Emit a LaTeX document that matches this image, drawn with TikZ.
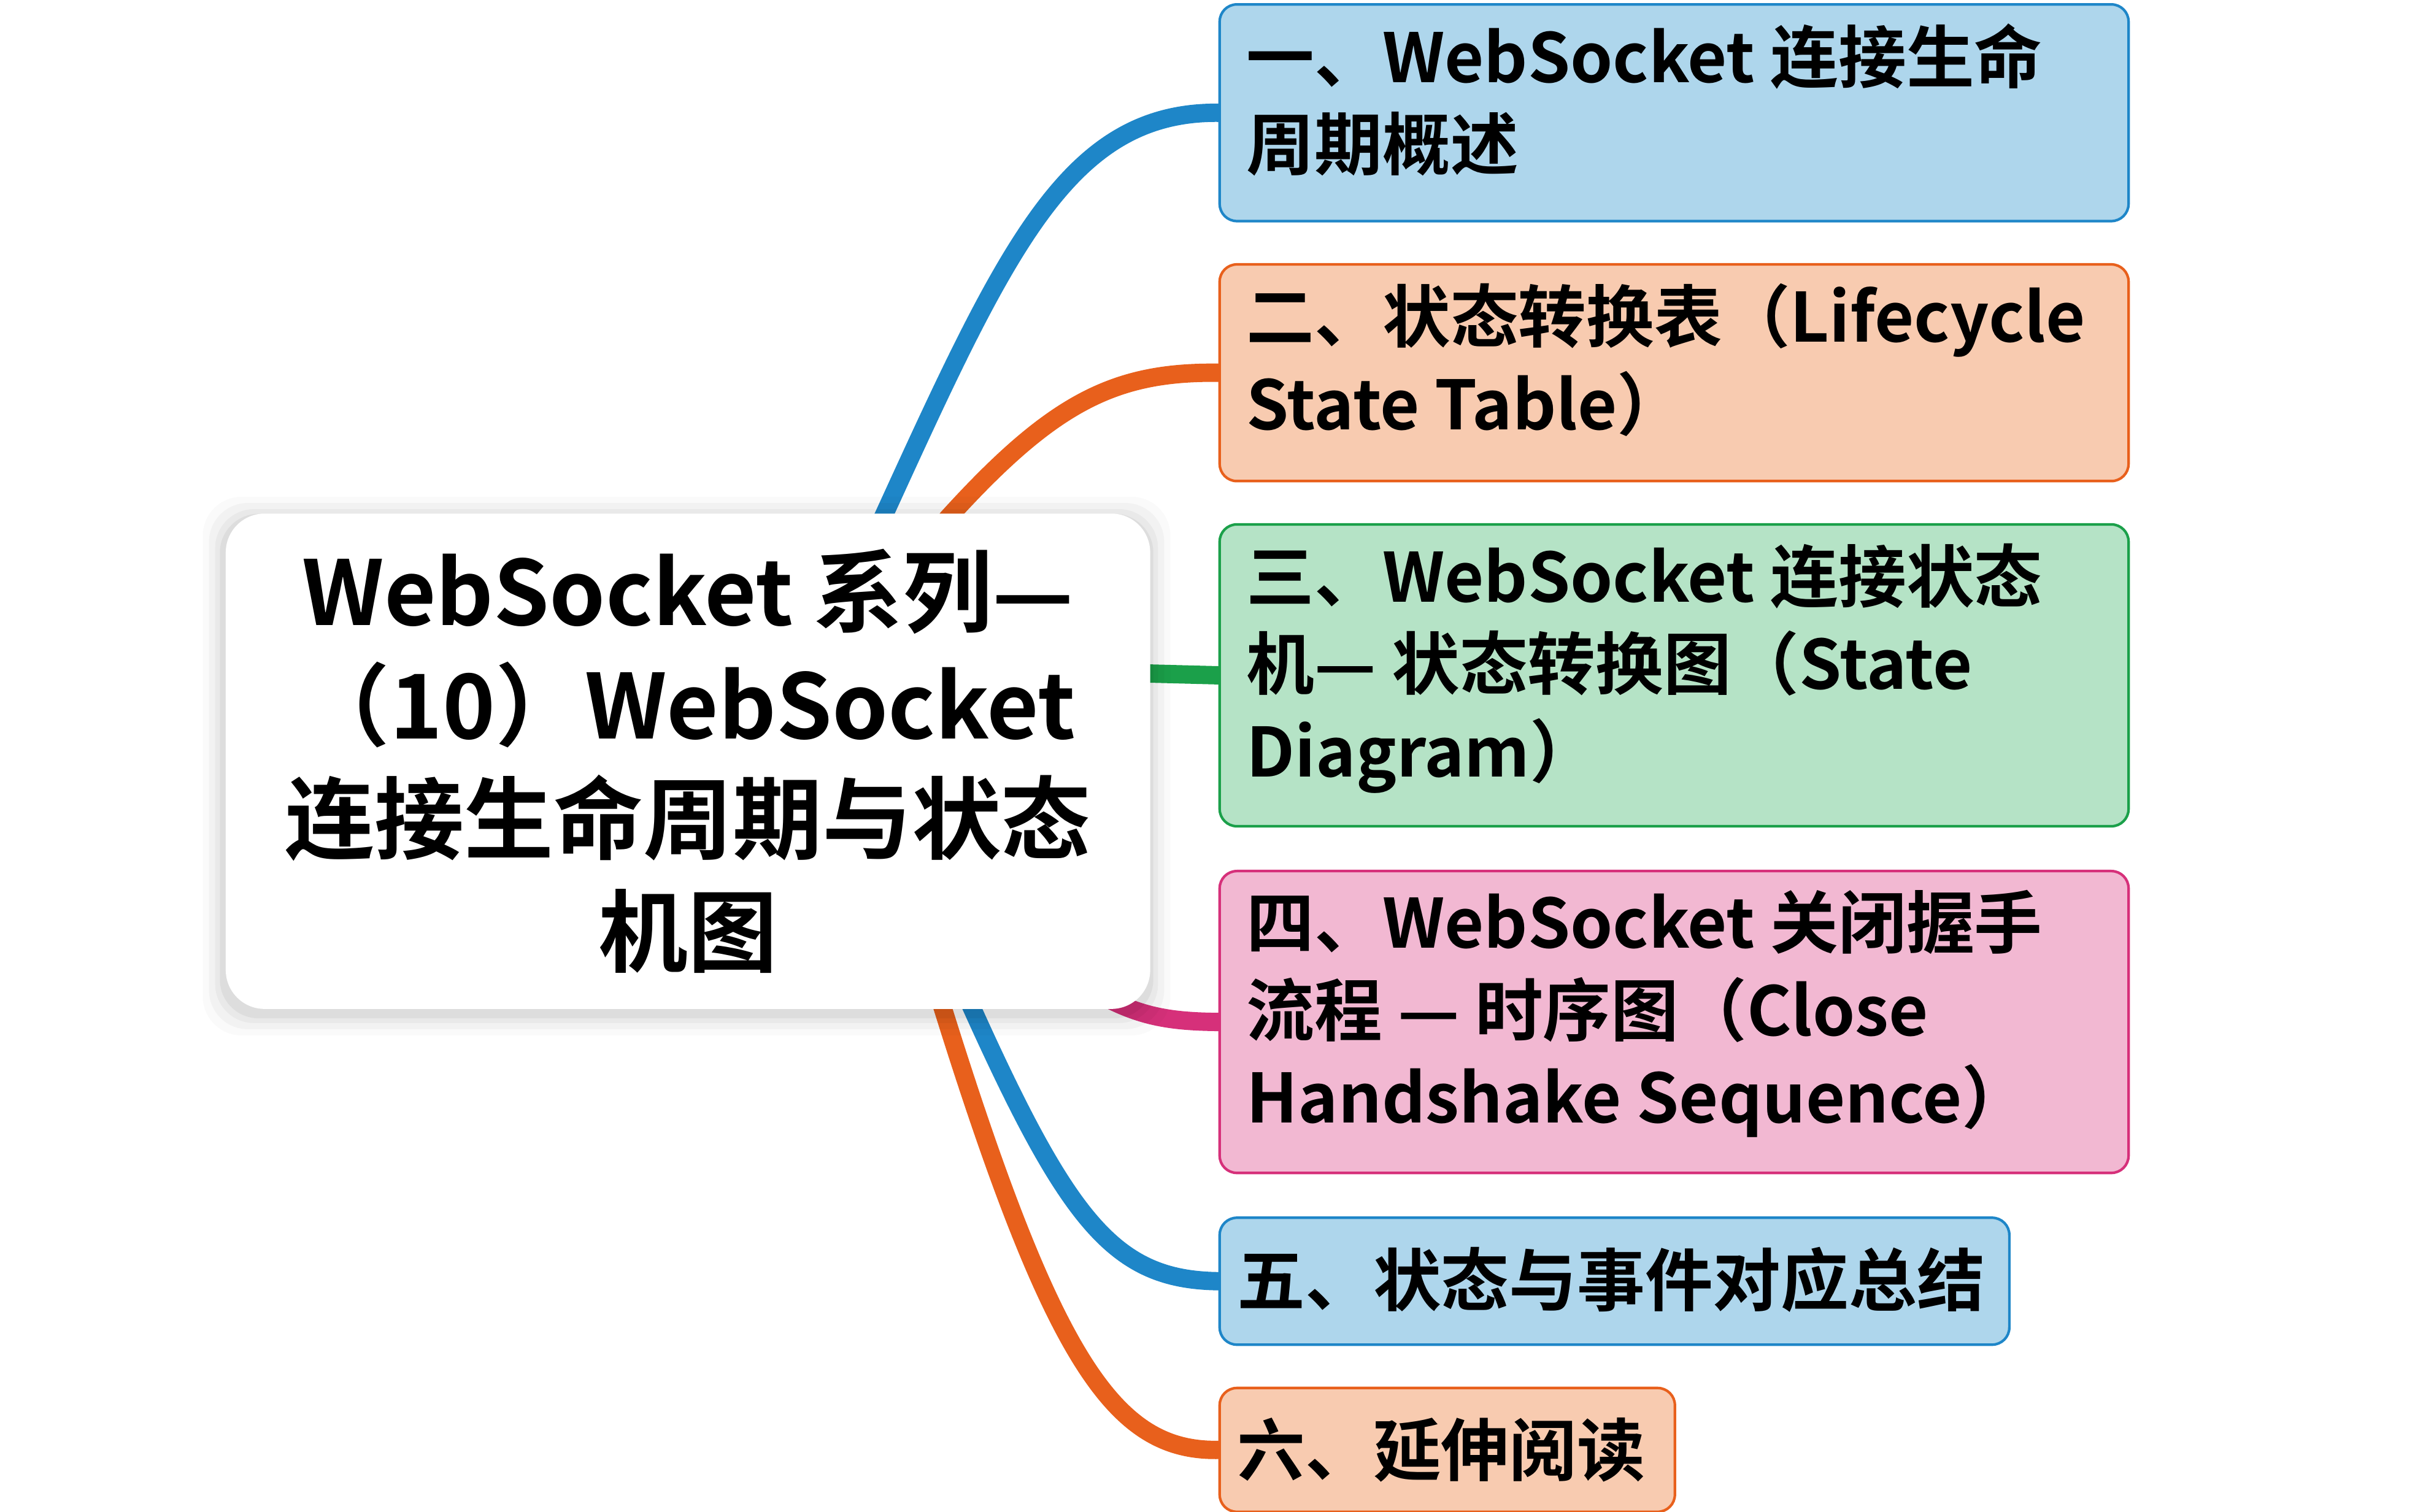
\documentclass[tikz,border=0pt]{standalone}
\usepackage{fontspec}
\setmainfont{Noto Sans CJK SC}[BoldFont={Noto Sans CJK SC Bold}]
\pgfdeclarelayer{background}
\pgfsetlayers{background,main}
\begin{document}
\begin{tikzpicture}[x=0.02523cm,y=-0.02523cm,
  box/.style={draw,line width=1.2pt,rounded corners=8pt,anchor=north west,inner sep=0pt},
  txt/.style={anchor=north west,align=left,font=\fontsize{31.5}{40.5}\selectfont\bfseries,inner sep=0pt},
  con/.style={line width=8.5pt,line cap=round}]
\definecolor{bfill}{HTML}{AED6EC}\definecolor{bline}{HTML}{1E86C8}
\definecolor{ofill}{HTML}{F8CBB0}\definecolor{oline}{HTML}{E8601C}
\definecolor{gfill}{HTML}{B5E3C6}\definecolor{gline}{HTML}{1BA04A}
\definecolor{pfill}{HTML}{F2B8D2}\definecolor{pline}{HTML}{D6307A}
\useasboundingbox (0,0) rectangle (1560,976.6);
\coordinate (s1) at (570,335); \coordinate (s2) at (612,335);
\coordinate (s3) at (735,435); \coordinate (s4) at (715,645);
\coordinate (s5) at (625,645); \coordinate (s6) at (607,645);
\node[box,draw=bline,fill=bfill,minimum width=587*0.7178pt,minimum height=140*0.7178pt] (b1) at (787,2) {};
\node[box,draw=oline,fill=ofill,minimum width=587*0.7178pt,minimum height=140*0.7178pt] (b2) at (787,170) {};
\node[box,draw=gline,fill=gfill,minimum width=587*0.7178pt,minimum height=195*0.7178pt] (b3) at (787,338) {};
\node[box,draw=pline,fill=pfill,minimum width=587*0.7178pt,minimum height=195*0.7178pt] (b4) at (787,562) {};
\node[box,draw=bline,fill=bfill,minimum width=510*0.7178pt,minimum height=82*0.7178pt] (b5) at (787,786) {};
\node[box,draw=oline,fill=ofill,minimum width=294*0.7178pt,minimum height=80*0.7178pt] (b6) at (787,896) {};
\begin{pgfonlayer}{background}
\draw[con,bline] (s1) .. controls (650,160) and (690,72) .. (b1.west);
\draw[con,oline] (s2) .. controls (680,260) and (720,240) .. (b2.west);
\draw[con,gline] (s3) -- (b3.west);
\draw[con,pline] (s4) .. controls (740,658) and (760,660) .. (b4.west);
\draw[con,bline] (s5) .. controls (690,790) and (720,827) .. (b5.west);
\draw[con,oline] (s6) .. controls (680,880) and (720,938) .. (b6.west);
\end{pgfonlayer}
\foreach \d/\o in {14/0.02,10/0.03,6/0.04,3/0.05}
  \fill[black,opacity=\o,rounded corners=18pt] (145-\d,331-\d+4) rectangle (742+\d,651+\d+4);
\node[box,draw=none,fill=white,rounded corners=18pt,minimum width=597*0.7178pt,minimum height=320*0.7178pt] (c) at (145,331) {};
\node[align=center,inner sep=0pt,font=\fontsize{41.5}{52.5}\selectfont\bfseries] (ct) at (c.center) {WebSocket 系列—\\（10）WebSocket\\连接生命周期与状态\\机图};
\node[txt] (t1) at (805,15) {一、WebSocket 连接生命\\周期概述};
\node[txt] (t2) at (805,183) {二、状态转换表（Lifecycle\\State Table）};
\node[txt] (t3) at (805,351) {三、WebSocket 连接状态\\机— 状态转换图（State\\Diagram）};
\node[txt] (t4) at (805,575) {四、WebSocket 关闭握手\\流程 — 时序图（Close\\Handshake Sequence）};
\node[txt,anchor=west] (t5) at (799,827) {五、状态与事件对应总结};
\node[txt,anchor=west] (t6) at (799,937) {六、延伸阅读};
\end{tikzpicture}
\end{document}
